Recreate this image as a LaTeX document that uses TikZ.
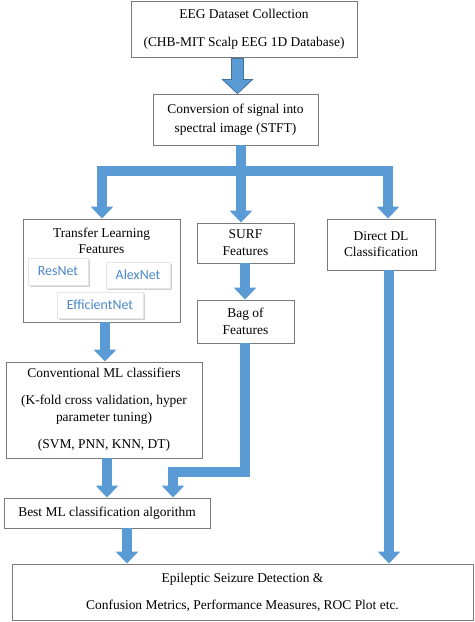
\documentclass[tikz,border=0pt]{standalone}
\usepackage{fontspec}
\setmainfont{Liberation Serif}
\newfontfamily\calibrifont{Carlito}
\usetikzlibrary{arrows.meta,calc,shadows}
\definecolor{arrowblue}{HTML}{5B9BD5}
\definecolor{arrowedge}{HTML}{41719C}
\definecolor{boxedge}{HTML}{7A7A7A}
\definecolor{netblue}{HTML}{4A86C8}
\begin{document}
\begin{tikzpicture}[x=1bp,y=-1bp,
  flowbox/.style={draw=boxedge, line width=0.9bp, fill=white, inner sep=0pt, align=center},
  txt/.style={inner sep=0pt, align=center, font=\fontsize{13.5}{#1}\selectfont},
  txt/.default=17,
  netbox/.style={draw=black!10, line width=0.6bp, fill=white, inner sep=0pt,
    font=\calibrifont\fontsize{14}{16}\selectfont, text=netblue,
    drop shadow={shadow xshift=1.5bp, shadow yshift=-1.5bp, fill=black!30, opacity=0.6}},
  flow/.style={draw=arrowblue, line width=10bp, line join=miter,
    -{Triangle[width=22bp,length=12bp,fill=arrowblue]}}
]
\useasboundingbox (0,0) rectangle (475,622);

% boxes
\node[flowbox, txt=28, minimum width=226bp, minimum height=56bp] (b1) at (244,29)
  {EEG Dataset Collection\\(CHB-MIT Scalp EEG 1D Database)};
\node[flowbox, txt=19, minimum width=165bp, minimum height=51bp] (b2) at (235.5,119.5)
  {Conversion of signal into\\spectral image (STFT)};
\node[flowbox, minimum width=157bp, minimum height=103bp] (tl) at (101.5,270.5) {};
\node[txt=16] (tltext) at (101.5,241) {Transfer Learning\\Features};
\node[netbox, minimum width=60bp, minimum height=27bp] (resnet) at (58,271.5) {ResNet};
\node[netbox, minimum width=64bp, minimum height=26bp] (alexnet) at (138,275) {AlexNet};
\node[netbox, minimum width=86bp, minimum height=26bp] (effnet) at (100,305) {EfficientNet};
\node[flowbox, txt=17, minimum width=97bp, minimum height=40bp] (surf) at (245.5,243)
  {SURF\\Features};
\node[flowbox, txt=16, minimum width=108bp, minimum height=51bp] (dl) at (381,244.5)
  {Direct DL\\Classification};
\node[flowbox, txt=17, minimum width=97bp, minimum height=43bp] (bag) at (245.5,321.5)
  {Bag of\\Features};
\node[flowbox, txt=17, minimum width=196bp, minimum height=96bp] (conv) at (104,410)
  {Conventional ML classifiers\\[10bp](K-fold cross validation, hyper\\parameter tuning)\\[10bp](SVM, PNN, KNN, DT)};
\node[flowbox, txt=17, minimum width=206bp, minimum height=30bp] (best) at (107,513)
  {Best ML classification algorithm};
\node[flowbox, txt=27, minimum width=461bp, minimum height=56bp] (epi) at (242.5,592)
  {Epileptic Seizure Detection \&\\Confusion Metrics, Performance Measures, ROC Plot etc.};

% big first arrow
\coordinate (ax) at (237.5,0);
\coordinate (a1t) at (b1.south -| ax);
\coordinate (a1b) at (b2.north -| ax);
\filldraw[fill=arrowblue, draw=arrowedge, line width=0.8bp]
  ($(a1t)+(-6,1)$) -- ($(a1t)+(6,1)$) -- ($(a1b)+(6,-14)$) -- ($(a1b)+(15,-14)$)
  -- (a1b) -- ($(a1b)+(-15,-14)$) -- ($(a1b)+(-6,-14)$) -- cycle;

% branch
\coordinate (j) at (241,171);
\coordinate (xl) at (102,171);
\coordinate (xr) at (388,171);
\draw[flow] (b2.south -| j) -- (j) -- (xl) -- (xl |- tl.north);
\draw[flow] (j) -- (xr) -- (xr |- dl.north);
\draw[flow] (j) -- (j |- surf.north);

% others
\coordinate (xs) at (245,0);
\draw[flow] (surf.south -| xs) -- (bag.north -| xs);
\coordinate (xt) at (105,0);
\draw[flow] (tl.south -| xt) -- (conv.north -| xt);
\coordinate (xc) at (107,0);
\draw[flow] (conv.south -| xc) -- (best.north -| xc);
\coordinate (bk) at (245,472);
\coordinate (bk2) at (173,472);
\draw[flow] (bag.south -| bk) -- (bk) -- (bk2) -- (bk2 |- best.north);
\coordinate (xb) at (127,0);
\draw[flow] (best.south -| xb) -- (epi.north -| xb);
\coordinate (xd) at (389,0);
\draw[flow] (dl.south -| xd) -- (epi.north -| xd);
\end{tikzpicture}
\end{document}
